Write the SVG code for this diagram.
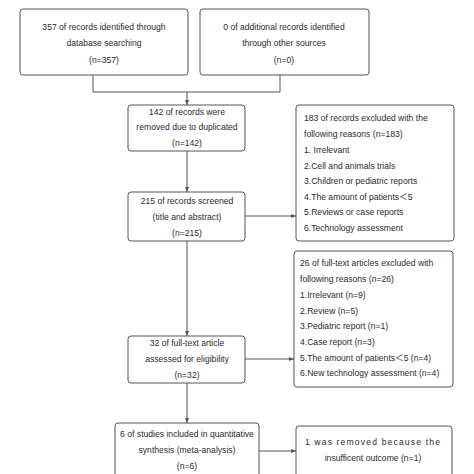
<svg xmlns="http://www.w3.org/2000/svg" width="474" height="474" viewBox="0 0 474 474">
<style>
.box{fill:#fff;stroke:#555;stroke-width:1}
.t{font-family:"Liberation Sans","Noto Sans CJK SC",Arial,sans-serif;font-size:8.6px;fill:#2a2a2a}
.c{text-anchor:middle}
.ln{fill:none;stroke:#555;stroke-width:1}
</style>
<defs>
<marker id="ah" markerWidth="5" markerHeight="4" refX="5" refY="2" orient="auto" markerUnits="userSpaceOnUse">
<path d="M0,0 L5,2 L0,4 Z" fill="#555"/>
</marker>
</defs>
<rect width="474" height="474" fill="#fff"/>
<g id="connectors">
<path class="ln" d="M93,75 V92 H280 V75"/>
<path class="ln" d="M187,92 V105" marker-end="url(#ah)"/>
<path class="ln" d="M187,151 V192" marker-end="url(#ah)"/>
<path class="ln" d="M245,216 H296" marker-end="url(#ah)"/>
<path class="ln" d="M187,241 V336" marker-end="url(#ah)"/>
<path class="ln" d="M245,359 H294" marker-end="url(#ah)"/>
<path class="ln" d="M187,383 V423" marker-end="url(#ah)"/>
<path class="ln" d="M259,451 H296" marker-end="url(#ah)"/>
</g>
<g id="n1">
<rect class="box" x="20" y="9" width="168" height="66" rx="3"/>
<text class="t c" x="104" y="30">357 of records identified through</text>
<text class="t c" x="104" y="46">database searching</text>
<text class="t c" x="104" y="63">(n=357)</text>
</g>
<g id="n2">
<rect class="box" x="200" y="9" width="169" height="66" rx="3"/>
<text class="t c" x="284" y="30">0 of additional records identified</text>
<text class="t c" x="284" y="46">through other sources</text>
<text class="t c" x="284" y="63">(n=0)</text>
</g>
<g id="n3">
<rect class="box" x="128" y="105" width="117" height="46" rx="3"/>
<text class="t c" x="187" y="115">142 of records were</text>
<text class="t c" x="187" y="130">removed due to duplicated</text>
<text class="t c" x="187" y="146">(n=142)</text>
</g>
<g id="n4">
<rect class="box" x="128" y="192" width="117" height="49" rx="3"/>
<text class="t c" x="187" y="204">215 of records screened</text>
<text class="t c" x="187" y="220">(title and abstract)</text>
<text class="t c" x="187" y="236">(n=215)</text>
</g>
<g id="n5">
<rect class="box" x="296" y="105" width="158" height="136" rx="3"/>
<text class="t" x="304" y="121">183 of records excluded with the</text>
<text class="t" x="304" y="137">following reasons (n=183)</text>
<text class="t" x="304" y="153">1. Irrelevant</text>
<text class="t" x="304" y="169">2.Cell and animals trials</text>
<text class="t" x="304" y="184">3.Children or pediatric reports</text>
<text class="t" x="304" y="200">4.The amount of patients＜5</text>
<text class="t" x="304" y="215">5.Reviews or case reports</text>
<text class="t" x="304" y="231">6.Technology assessment</text>
</g>
<g id="n6">
<rect class="box" x="294" y="251" width="159" height="136" rx="3"/>
<text class="t" x="300" y="266">26 of full-text articles excluded with</text>
<text class="t" x="300" y="282">following reasons (n=26)</text>
<text class="t" x="300" y="298">1.Irrelevant (n=9)</text>
<text class="t" x="300" y="314">2.Review (n=5)</text>
<text class="t" x="300" y="329">3.Pediatric report (n=1)</text>
<text class="t" x="300" y="345">4.Case report (n=3)</text>
<text class="t" x="300" y="361">5.The amount of patients＜5 (n=4)</text>
<text class="t" x="300" y="376">6.New technology assessment (n=4)</text>
</g>
<g id="n7">
<rect class="box" x="128" y="336" width="117" height="47" rx="3"/>
<text class="t c" x="187" y="346">32 of full-text article</text>
<text class="t c" x="187" y="362">assessed for eligibility</text>
<text class="t c" x="187" y="378">(n=32)</text>
</g>
<g id="n8">
<rect class="box" x="115" y="423" width="144" height="60" rx="3"/>
<text class="t c" x="187" y="437">6 of studies included in quantitative</text>
<text class="t c" x="187" y="453">synthesis (meta-analysis)</text>
<text class="t c" x="187" y="469">(n=6)</text>
</g>
<g id="n9">
<rect class="box" x="296" y="426" width="156" height="60" rx="3"/>
<text class="t c" x="373" y="445" letter-spacing="1.15">1 was removed because the</text>
<text class="t c" x="373" y="461">insufficent outcome (n=1)</text>
</g>
</svg>
